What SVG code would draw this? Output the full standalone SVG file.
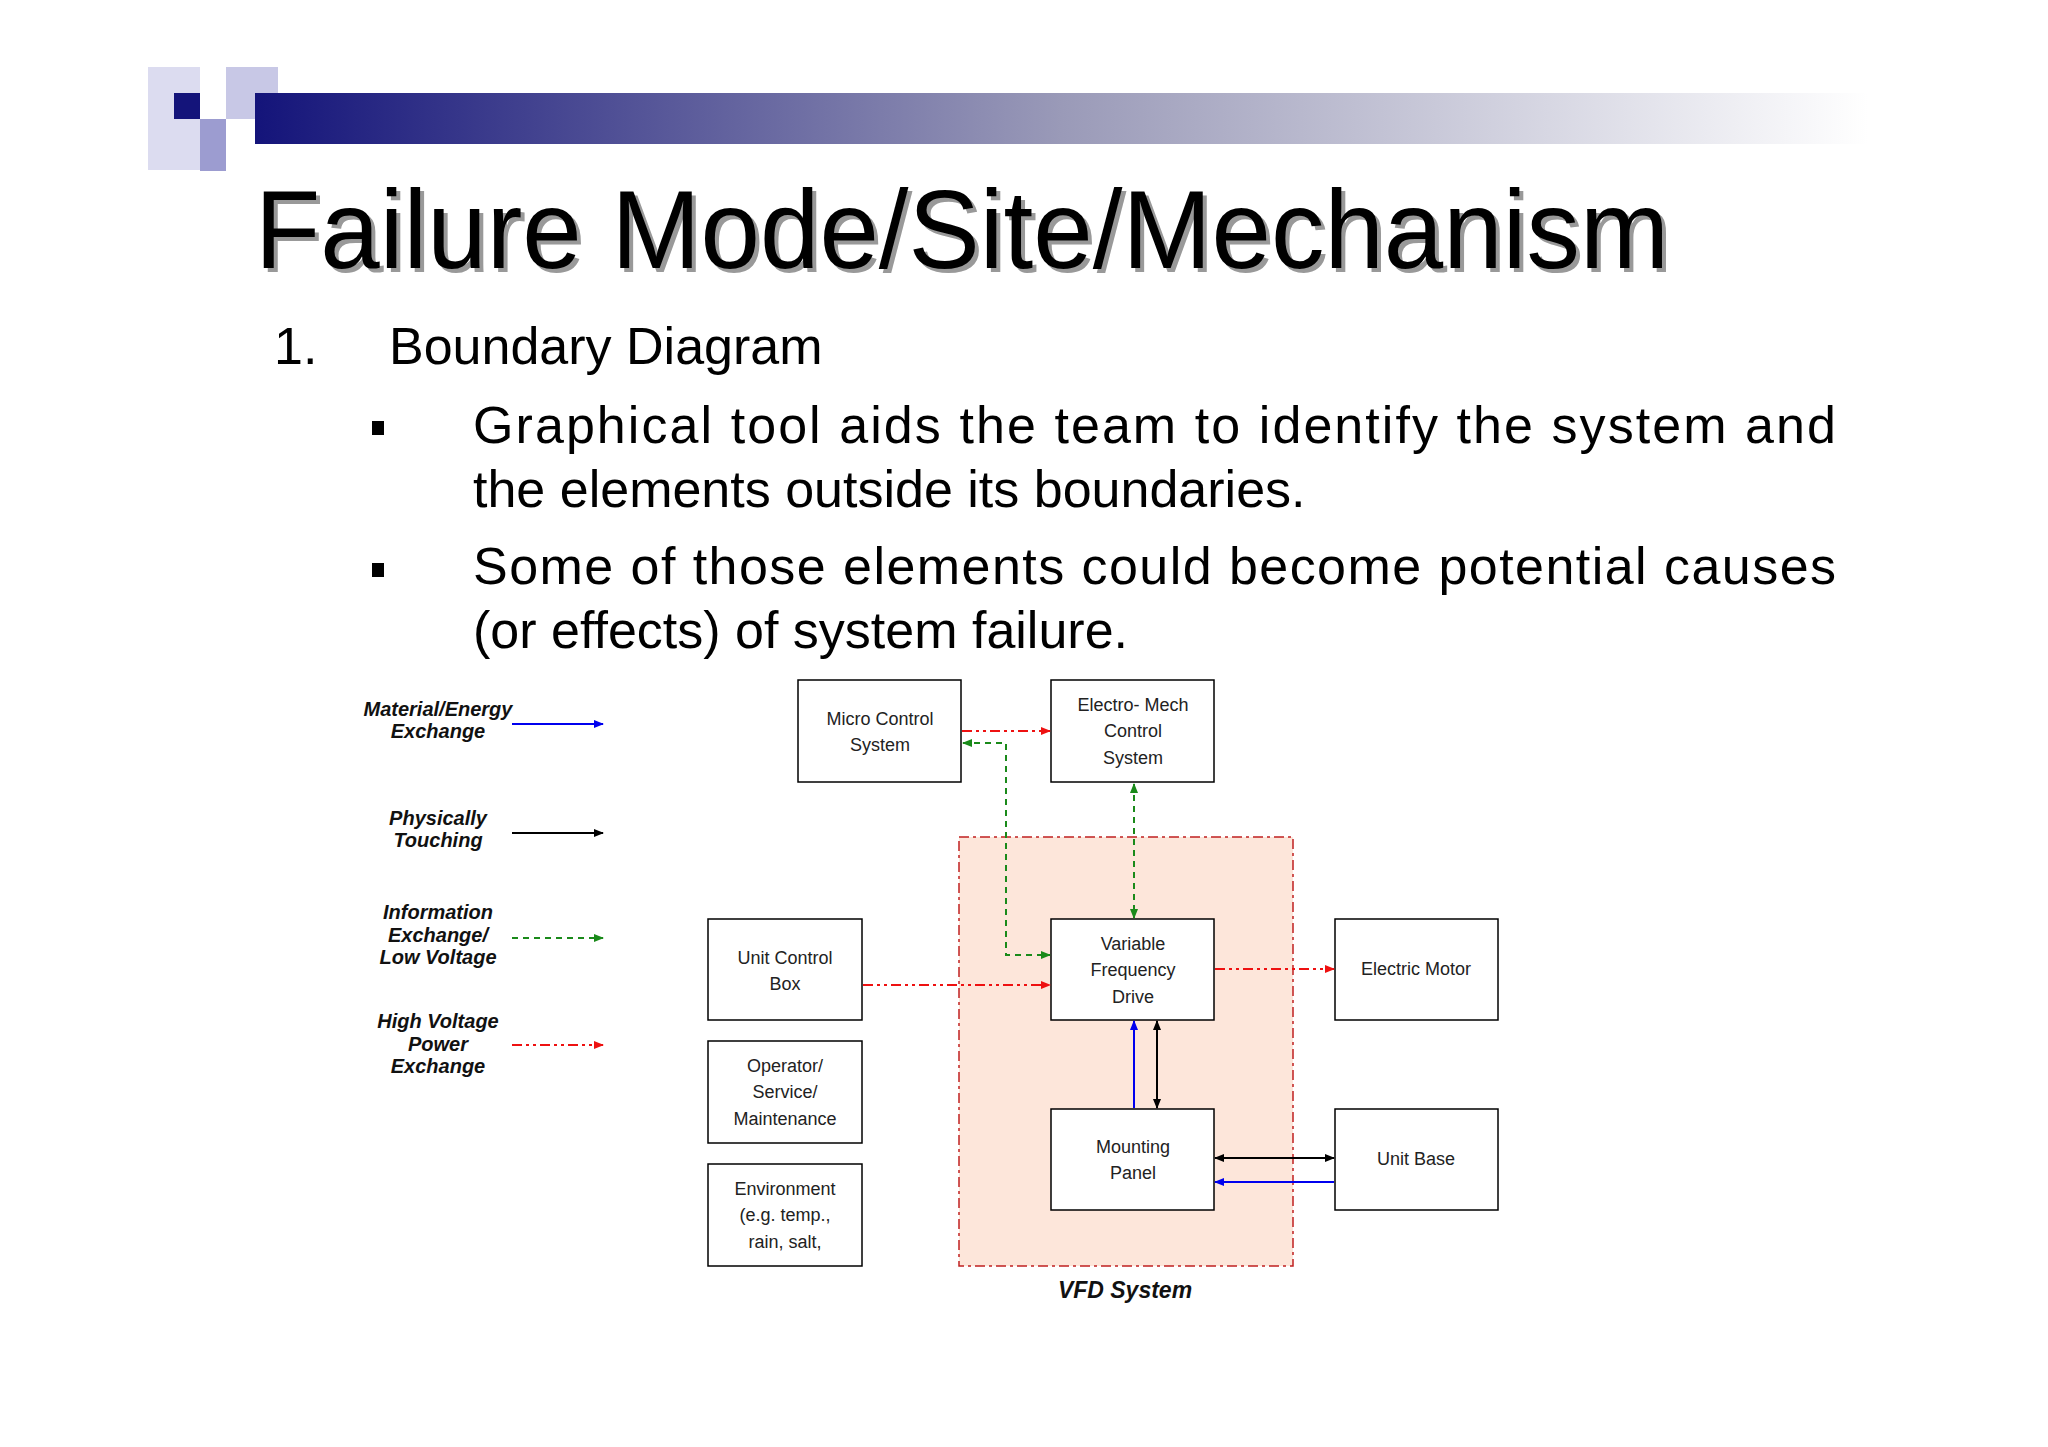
<svg xmlns="http://www.w3.org/2000/svg" width="2048" height="1447" viewBox="0 0 2048 1447">
<defs>
<linearGradient id="bar" x1="0" x2="1" y1="0" y2="0"><stop offset="0" stop-color="#14147a"/><stop offset="0.5" stop-color="#9a9ab8"/><stop offset="1" stop-color="#ffffff"/></linearGradient>
<marker id="mb" markerWidth="10" markerHeight="10" refX="9" refY="5" orient="auto-start-reverse" markerUnits="userSpaceOnUse"><path d="M0,1 L10,5 L0,9 Z" fill="#0000ee"/></marker>
<marker id="mk" markerWidth="10" markerHeight="10" refX="9" refY="5" orient="auto-start-reverse" markerUnits="userSpaceOnUse"><path d="M0,1 L10,5 L0,9 Z" fill="#000"/></marker>
<marker id="mg" markerWidth="10" markerHeight="10" refX="9" refY="5" orient="auto-start-reverse" markerUnits="userSpaceOnUse"><path d="M0,1 L10,5 L0,9 Z" fill="#1a8a1a"/></marker>
<marker id="mr" markerWidth="10" markerHeight="10" refX="9" refY="5" orient="auto-start-reverse" markerUnits="userSpaceOnUse"><path d="M0,1 L10,5 L0,9 Z" fill="#ee1111"/></marker>
</defs>
<style>
.n{fill:#fff;stroke:#000;stroke-width:1.5}
.t{font-family:"Liberation Sans",Arial,sans-serif;font-size:18px;fill:#222;text-anchor:middle}
.lg{font-family:"Liberation Sans",Arial,sans-serif;font-size:20px;font-style:italic;font-weight:bold;fill:#111;text-anchor:middle}
.body{font-family:"Liberation Sans",Arial,sans-serif;font-size:52px;fill:#000}
.blue{stroke:#0000ee;stroke-width:2;fill:none;marker-end:url(#mb)}
.blk{stroke:#000;stroke-width:2;fill:none}
.grn{stroke:#1a8a1a;stroke-width:2;fill:none;stroke-dasharray:6,5}
.red{stroke:#ee1111;stroke-width:2;fill:none;stroke-dasharray:10,4,3,4,3,4}
</style>
<rect width="2048" height="1447" fill="#fff"/>
<g id="header">
<rect x="148" y="67" width="52" height="103" fill="#dcdcf0"/>
<rect x="226" y="67" width="52" height="52" fill="#c8c8e6"/>
<rect x="200" y="119" width="26" height="52" fill="#9c9cd0"/>
<rect x="255" y="93" width="1613" height="51" fill="url(#bar)"/>
<rect x="174" y="93" width="26" height="26" fill="#14147a"/>
</g>
<text x="259" y="272" font-family="Liberation Sans,Arial,sans-serif" font-size="112" fill="#999" textLength="1414" lengthAdjust="spacingAndGlyphs">Failure Mode/Site/Mechanism</text>
<text x="255" y="268" font-family="Liberation Sans,Arial,sans-serif" font-size="112" fill="#000" textLength="1414" lengthAdjust="spacingAndGlyphs">Failure Mode/Site/Mechanism</text>
<text x="274" y="364" class="body" font-size="56">1.</text>
<text x="389" y="364" class="body" font-size="56">Boundary Diagram</text>
<rect x="372" y="421" width="12" height="14" fill="#000"/>
<rect x="372" y="563" width="12" height="14" fill="#000"/>
<text x="473" y="443" class="body" textLength="1363" lengthAdjust="spacing">Graphical tool aids the team to identify the system and</text>
<text x="473" y="507" class="body">the elements outside its boundaries.</text>
<text x="473" y="584" class="body" textLength="1363" lengthAdjust="spacing">Some of those elements could become potential causes</text>
<text x="473" y="648" class="body">(or effects) of system failure.</text>

<g id="legend">
<text class="lg" x="438" y="716">Material/Energy</text><text class="lg" x="438" y="738">Exchange</text>
<line x1="512" y1="724" x2="603" y2="724" class="blue"/>
<text class="lg" x="438" y="825">Physically</text><text class="lg" x="438" y="847">Touching</text>
<line x1="512" y1="833" x2="603" y2="833" class="blk" marker-end="url(#mk)"/>
<text class="lg" x="438" y="919">Information</text><text class="lg" x="438" y="942">Exchange/</text><text class="lg" x="438" y="964">Low Voltage</text>
<line x1="512" y1="938" x2="603" y2="938" class="grn" marker-end="url(#mg)"/>
<text class="lg" x="438" y="1028">High Voltage</text><text class="lg" x="438" y="1051">Power</text><text class="lg" x="438" y="1073">Exchange</text>
<line x1="512" y1="1045" x2="603" y2="1045" class="red" marker-end="url(#mr)"/>
</g>

<g id="vfd-system">
<rect x="959" y="837" width="334" height="429" fill="#fde6da" stroke="#c02020" stroke-width="1.5" stroke-dasharray="10,4,3,4"/>
<text x="1125" y="1298" font-family="Liberation Sans,Arial,sans-serif" font-size="23" font-style="italic" font-weight="bold" text-anchor="middle" fill="#111">VFD System</text>
</g>

<g id="micro"><rect class="n" x="798" y="680" width="163" height="102"/><text class="t" x="880" y="725">Micro Control</text><text class="t" x="880" y="751">System</text></g>
<g id="electro"><rect class="n" x="1051" y="680" width="163" height="102"/><text class="t" x="1133" y="711">Electro- Mech</text><text class="t" x="1133" y="737">Control</text><text class="t" x="1133" y="764">System</text></g>
<g id="vfd"><rect class="n" x="1051" y="919" width="163" height="101"/><text class="t" x="1133" y="950">Variable</text><text class="t" x="1133" y="976">Frequency</text><text class="t" x="1133" y="1003">Drive</text></g>
<g id="ucb"><rect class="n" x="708" y="919" width="154" height="101"/><text class="t" x="785" y="964">Unit Control</text><text class="t" x="785" y="990">Box</text></g>
<g id="operator"><rect class="n" x="708" y="1041" width="154" height="102"/><text class="t" x="785" y="1072">Operator/</text><text class="t" x="785" y="1098">Service/</text><text class="t" x="785" y="1125">Maintenance</text></g>
<g id="environment"><rect class="n" x="708" y="1164" width="154" height="102"/><text class="t" x="785" y="1195">Environment</text><text class="t" x="785" y="1221">(e.g. temp.,</text><text class="t" x="785" y="1248">rain, salt,</text></g>
<g id="mounting"><rect class="n" x="1051" y="1109" width="163" height="101"/><text class="t" x="1133" y="1153">Mounting</text><text class="t" x="1133" y="1179">Panel</text></g>
<g id="motor"><rect class="n" x="1335" y="919" width="163" height="101"/><text class="t" x="1416" y="975">Electric Motor</text></g>
<g id="unitbase"><rect class="n" x="1335" y="1109" width="163" height="101"/><text class="t" x="1416" y="1165">Unit Base</text></g>

<g id="connectors">
<line x1="962" y1="731" x2="1050" y2="731" class="red" marker-end="url(#mr)"/>
<path d="M963,743 L1006,743 L1006,955 L1050,955" class="grn" marker-start="url(#mg)" marker-end="url(#mg)"/>
<line x1="1134" y1="784" x2="1134" y2="918" class="grn" marker-start="url(#mg)" marker-end="url(#mg)"/>
<line x1="863" y1="985" x2="1050" y2="985" class="red" marker-end="url(#mr)"/>
<line x1="1215" y1="969" x2="1334" y2="969" class="red" marker-end="url(#mr)"/>
<line x1="1134" y1="1108" x2="1134" y2="1021" class="blue"/>
<line x1="1157" y1="1021" x2="1157" y2="1108" class="blk" marker-start="url(#mk)" marker-end="url(#mk)"/>
<line x1="1215" y1="1158" x2="1334" y2="1158" class="blk" marker-start="url(#mk)" marker-end="url(#mk)"/>
<line x1="1334" y1="1182" x2="1215" y2="1182" class="blue"/>
</g>
</svg>
